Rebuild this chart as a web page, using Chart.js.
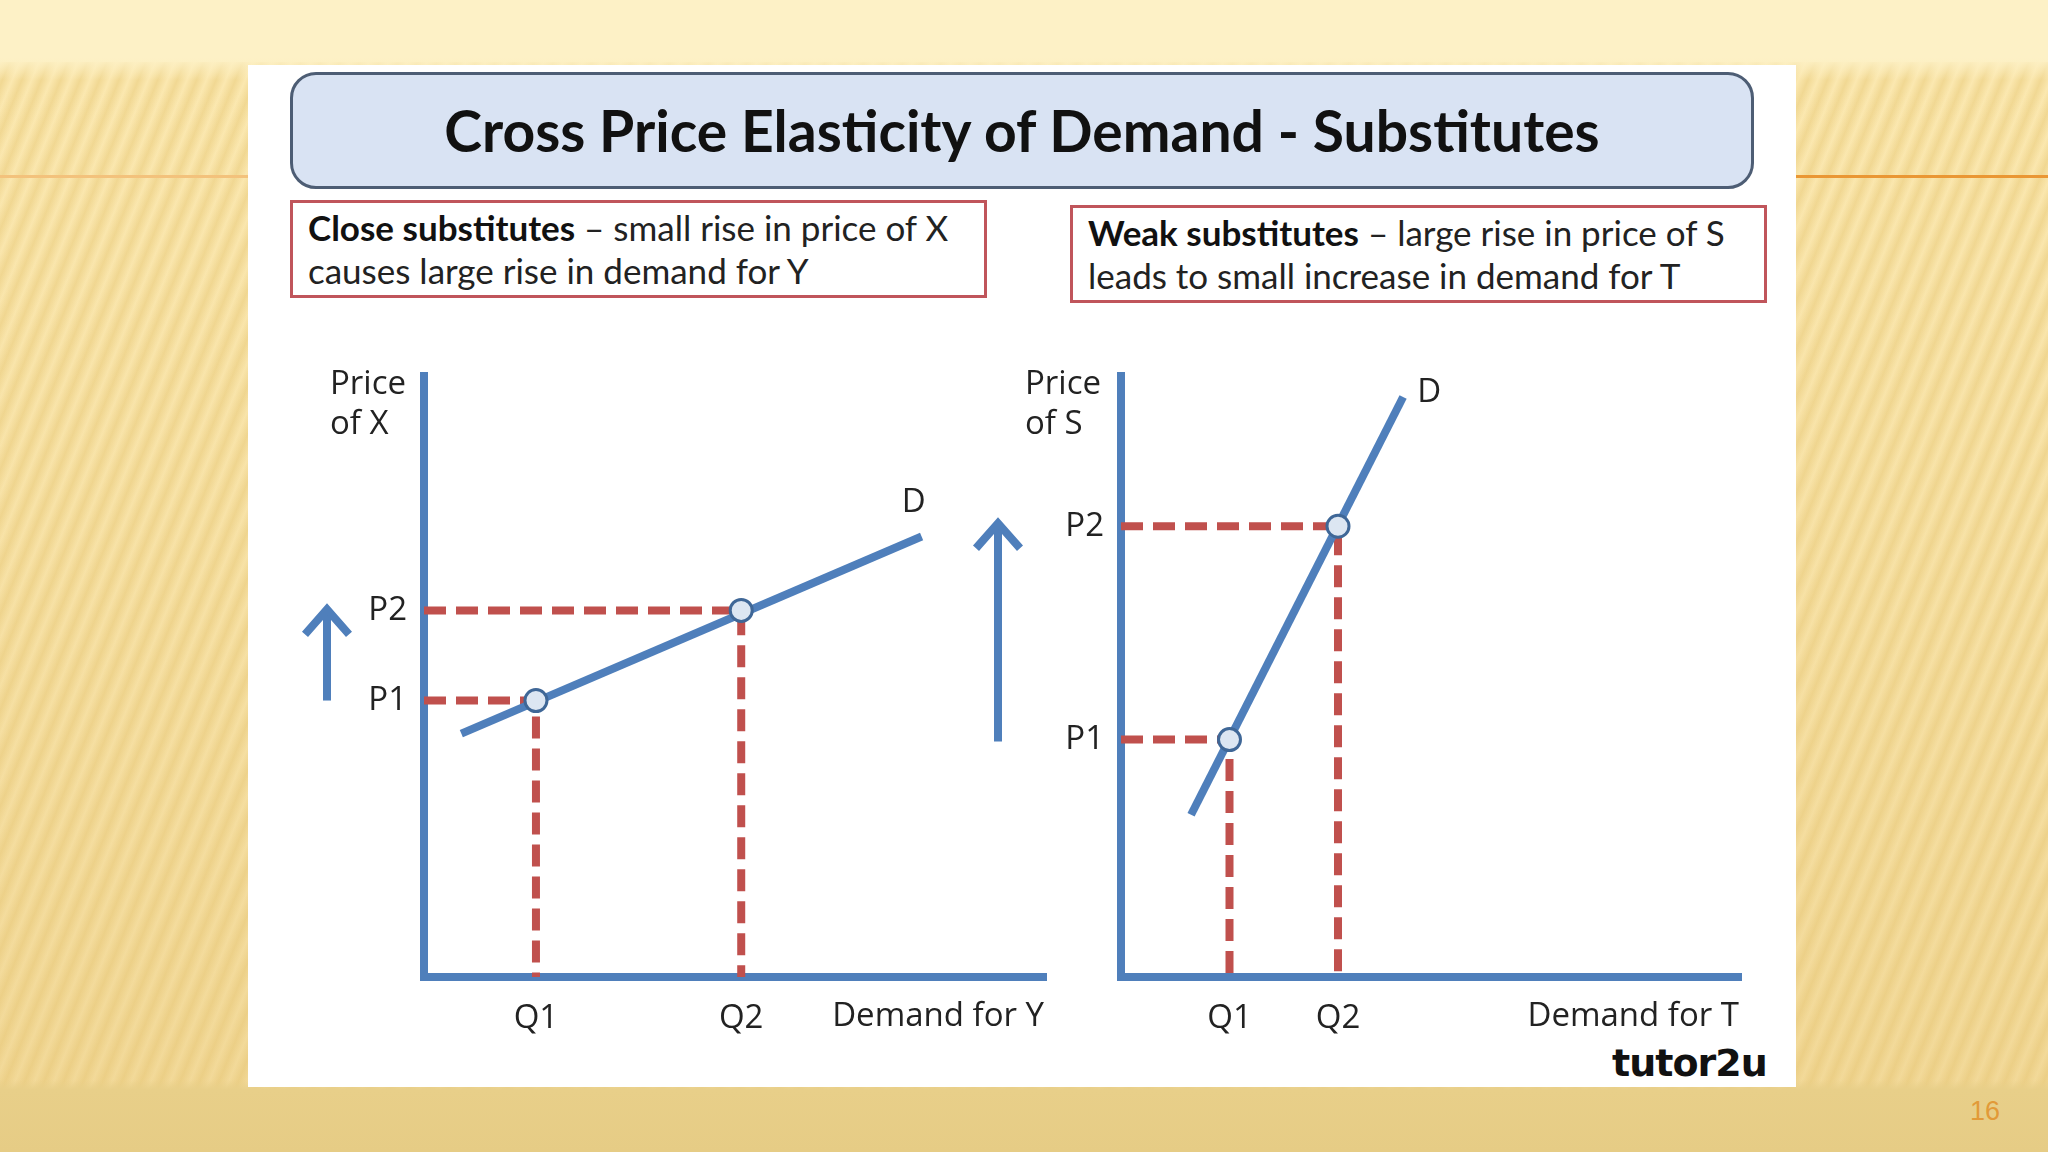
<!DOCTYPE html>
<html>
<head>
<meta charset="utf-8">
<script src="https://cdn.jsdelivr.net/npm/chart.js@4.4.1/dist/chart.umd.min.js"></script>
<style>
  html, body { margin: 0; padding: 0; }
  body {
    width: 2048px; height: 1152px; position: relative; overflow: hidden;
    background: #fbebb8;
  }
  .stripes {
    position: absolute; left: 0; top: 62px; width: 2048px; height: 1090px;
    background: repeating-linear-gradient(112deg, #fbe8b0 0px, #f1d893 9px, #fbe8b0 18px);
  }
  .shade {
    position: absolute; left: 0; top: 0; width: 2048px; height: 1152px;
    background: linear-gradient(to bottom, rgba(253,241,198,1) 0px, rgba(253,241,198,1) 58px, rgba(253,241,198,0) 80px, rgba(226,190,110,0.12) 500px, rgba(226,190,110,0.38) 1152px);
  }
  .bottomband {
    position: absolute; left: 0; top: 1080px; width: 2048px; height: 72px;
    background: linear-gradient(to bottom, rgba(232,207,137,0) 0px, #e8cf89 10px, #e6cc85 72px);
  }
  .rule { position: absolute; top: 175px; height: 3px; }
  .panel {
    position: absolute; left: 248px; top: 65px; width: 1548px; height: 1022px;
    background: #ffffff;
  }
  .title {
    position: absolute; left: 290px; top: 72px; width: 1458px; height: 111px;
    border: 3px solid #4d5d74; border-radius: 26px;
    background: #d9e3f3;
    font-family: Lato, "Open Sans", sans-serif; font-weight: 700; font-size: 57px;
    color: #111; text-align: center; line-height: 111px;
  }
  .box {
    position: absolute; border: 3px solid #c0555b; background: #fff;
    font-family: Lato, "Open Sans", sans-serif; font-size: 35px; color: #222;
    line-height: 43px; padding: 3px 0 0 15px; box-sizing: border-box; white-space: nowrap;
  }
  .box b { color: #111; }
  .logo {
    position: absolute; left: 1612px; top: 1041px;
    font-family: "DejaVu Sans", sans-serif; font-weight: 700; font-size: 38px; color: #111;
    letter-spacing: -1px;
  }
  .page {
    position: absolute; left: 1970px; top: 1096px;
    font-family: "Liberation Sans", Arial, sans-serif; font-size: 27px; color: #e29a38;
  }
  canvas { position: absolute; left: 0; top: 0; }
</style>
</head>
<body>
<div class="stripes"></div>
<div class="shade"></div>
<div class="bottomband"></div>
<div class="rule" style="left:0;width:248px;background:#f3c27c;"></div>
<div class="rule" style="left:1796px;width:252px;background:#ea9734;"></div>
<div class="panel"></div>
<div class="title">Cross Price Elasticity of Demand - Substitutes</div>
<div class="box" style="left:290px;top:200px;width:697px;height:98px;"><b>Close substitutes</b> – small rise in price of X<br>causes large rise in demand for Y</div>
<div class="box" style="left:1070px;top:205px;width:697px;height:98px;"><b>Weak substitutes</b> – large rise in price of S<br>leads to small increase in demand for T</div>
<div class="logo">tutor2u</div>
<div class="page">16</div>

<canvas id="leftChart" width="2048" height="1152"></canvas>
<canvas id="rightChart" width="2048" height="1152"></canvas>

<script>
// tick labels
var priceTicks = ['P1', 'P2'];
var quantityTicks = ['Q1', 'Q2'];

// close substitutes (left diagram)
var leftQ = [18, 51];
var leftP = [46, 61];
var leftDemandX = [6, 80];
var leftDemandY = [40.5, 73.3];

// weak substitutes (right diagram)
var rightQ = [17.5, 35];
var rightP = [39.5, 75];
var rightDemandX = [11.3, 45.5];
var rightDemandY = [27, 96.5];

var blue = '#4f7fbb';
var red = '#c0504d';
var labelFont = '33px "Open Sans"';

function pts(xs, ys) {
  return xs.map(function (x, i) { return { x: x, y: ys[i] }; });
}

function guide(q, p) {
  return [{ x: 0, y: p }, { x: q, y: p }, { x: q, y: 0 }];
}

function arrow(ctx, x, yFrom, yTo) {
  ctx.save();
  ctx.strokeStyle = blue;
  ctx.lineWidth = 8;
  ctx.lineJoin = 'miter';
  ctx.beginPath();
  ctx.moveTo(x, yFrom);
  ctx.lineTo(x, yTo + 4);
  ctx.stroke();
  ctx.beginPath();
  ctx.moveTo(x - 22, yTo + 28);
  ctx.lineTo(x, yTo + 3);
  ctx.lineTo(x + 22, yTo + 28);
  ctx.stroke();
  ctx.restore();
}

// axis captions, the D label and the price-rise arrow
var annotations = {
  id: 'annotations',
  afterDatasetsDraw: function (chart, args, o) {
    var ctx = chart.ctx;
    var xs = chart.scales.x, ys = chart.scales.y, area = chart.chartArea;
    ctx.save();
    ctx.fillStyle = '#222';
    ctx.font = labelFont;
    ctx.textBaseline = 'middle';
    ctx.textAlign = 'left';
    ctx.fillText('Price', area.left - o.priceDx, area.top + 9);
    ctx.fillText(o.priceOf, area.left - o.priceDx, area.top + 49);
    ctx.textAlign = 'right';
    ctx.fillText(o.demandFor, area.right - 2, area.bottom + 40);
    ctx.textAlign = 'center';
    var dx = o.dX[1], dy = o.dY[1];
    ctx.fillText('D', xs.getPixelForValue(dx) + o.dOffset[0], ys.getPixelForValue(dy) + o.dOffset[1]);
    ctx.restore();
    arrow(ctx, area.left - o.arrowDx, ys.getPixelForValue(o.p[0]) + o.arrowExtra[0], ys.getPixelForValue(o.p[1]) - o.arrowExtra[1]);
  }
};

function makeChart(id, q, p, dX, dY, pad, extra) {
  return new Chart(document.getElementById(id), {
    type: 'scatter',
    data: {
      datasets: [
        {
          data: pts(q, p), showLine: false,
          pointRadius: 11, pointBorderWidth: 3,
          pointBackgroundColor: '#dce6f2', pointBorderColor: '#3f6797'
        },
        {
          data: pts(dX, dY), showLine: true, pointRadius: 0,
          borderColor: blue, borderWidth: 8
        },
        {
          data: guide(q[0], p[0]), showLine: true, pointRadius: 0,
          borderColor: red, borderWidth: 8, borderDash: [22, 10]
        },
        {
          data: guide(q[1], p[1]), showLine: true, pointRadius: 0,
          borderColor: red, borderWidth: 8, borderDash: [22, 10]
        }
      ]
    },
    options: {
      responsive: false,
      animation: false,
      events: [],
      layout: { padding: pad },
      plugins: {
        legend: { display: false },
        tooltip: { enabled: false },
        annotations: Object.assign({ q: q, p: p, dX: dX, dY: dY }, extra)
      },
      scales: {
        x: {
          type: 'linear', min: 0, max: 100,
          grid: { display: false, drawTicks: false },
          border: { display: true, color: blue, width: 8 },
          afterBuildTicks: function (s) { s.ticks = q.map(function (v) { return { value: v }; }); },
          afterFit: function (s) { s.height = 60; },
          ticks: {
            autoSkip: false, maxRotation: 0, padding: 22, color: '#222',
            font: { family: 'Open Sans', size: 33 },
            callback: function (v, i) { return quantityTicks[i]; }
          }
        },
        y: {
          type: 'linear', min: 0, max: 100,
          grid: { display: false, drawTicks: false },
          border: { display: true, color: blue, width: 8 },
          afterBuildTicks: function (s) { s.ticks = p.map(function (v) { return { value: v }; }); },
          afterFit: function (s) { s.width = 60; },
          ticks: {
            autoSkip: false, padding: 17, color: '#222',
            font: { family: 'Open Sans', size: 33 },
            callback: function (v, i) { return priceTicks[i]; }
          }
        }
      }
    },
    plugins: [annotations]
  });
}

makeChart('leftChart', leftQ, leftP, leftDemandX, leftDemandY,
  { left: 364, top: 376, right: 1002, bottom: 115 },
  { priceOf: 'of X', demandFor: 'Demand for Y', priceDx: 94, dOffset: [-8, -34], arrowDx: 97, arrowExtra: [0, 4] });

makeChart('rightChart', rightQ, rightP, rightDemandX, rightDemandY,
  { left: 1061, top: 376, right: 307, bottom: 115 },
  { priceOf: 'of S', demandFor: 'Demand for T', priceDx: 96, dOffset: [26, -4], arrowDx: 123, arrowExtra: [2, 6] });
</script>
</body>
</html>
